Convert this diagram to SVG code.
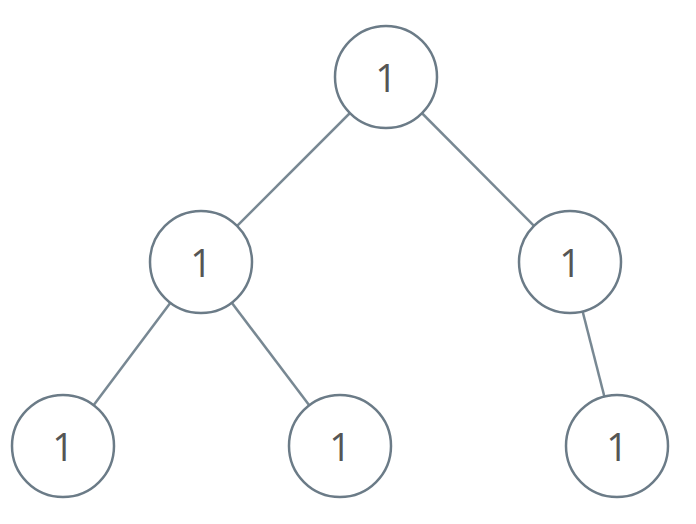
<svg xmlns="http://www.w3.org/2000/svg" width="696" height="524" viewBox="0 0 696 524">
<style>
circle{fill:#fff;stroke:#6b7b87;stroke-width:2.5}
line{stroke:#788893;stroke-width:2.5}
text{font-family:"Open Sans",sans-serif;font-size:38px;fill:#555;text-anchor:middle;dominant-baseline:central}
</style>
<rect width="696" height="524" fill="#fff"/>
<g id="edges">
<line x1="386" y1="77" x2="201" y2="262"/>
<line x1="386" y1="77" x2="570" y2="262"/>
<line x1="201" y1="262" x2="63" y2="446"/>
<line x1="201" y1="262" x2="340" y2="446"/>
<line x1="570" y1="262" x2="617" y2="446"/>
</g>
<g id="n1"><circle cx="386" cy="77" r="51"/><text x="386" y="77">1</text></g>
<g id="n2"><circle cx="201" cy="262" r="51"/><text x="201" y="262">1</text></g>
<g id="n3"><circle cx="570" cy="262" r="51"/><text x="570" y="262">1</text></g>
<g id="n4"><circle cx="63" cy="446" r="51"/><text x="63" y="446">1</text></g>
<g id="n5"><circle cx="340" cy="446" r="51"/><text x="340" y="446">1</text></g>
<g id="n6"><circle cx="617" cy="446" r="51"/><text x="617" y="446">1</text></g>
</svg>
